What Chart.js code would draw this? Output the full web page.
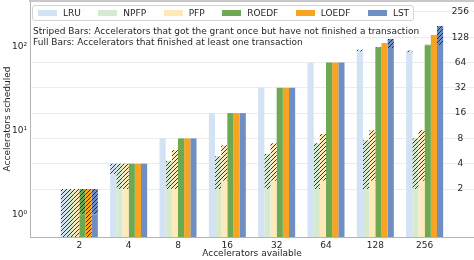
<!DOCTYPE html>
<html>
<head>
<meta charset="utf-8">
<script src="https://cdn.jsdelivr.net/npm/chart.js@4.4.1/dist/chart.umd.min.js"></script>
<style>
  body { margin: 0; background: #fff; }
  #wrap { position: relative; width: 474px; height: 260px; overflow: hidden; font-family: 'DejaVu Sans', sans-serif; color: #262626; }
  #legend { position: absolute; left: 32px; top: 5px; height: 16px; box-sizing: border-box; display: inline-flex; align-items: center;
            padding: 0 4px 0 5px; border: 1px solid #d4d4d4; border-radius: 3px; background: rgba(255,255,255,0.85); font-size: 9px; }
  .item { display: flex; align-items: center; margin-right: 17.5px; }
  .item:last-child { margin-right: 0; }
  .swatch { width: 19px; height: 6px; margin-right: 6px; }
  #note { position: absolute; left: 33px; top: 26px; font-size: 9px; line-height: 11px; white-space: nowrap; }
</style>
</head>
<body>
<div id="wrap">
  <canvas id="myChart" width="474" height="260"></canvas>
  <div id="legend"></div>
  <div id="note">Striped Bars: Accelerators that got the grant once but have not finished a transaction<br>Full Bars: Accelerators that finished at least one transaction</div>
</div>
<script>
// accelerators available (x categories)
const categories = ['2', '4', '8', '16', '32', '64', '128', '256'];
const seriesNames = ['LRU', 'NPFP', 'PFP', 'ROEDF', 'LOEDF', 'LST'];
const seriesColors = ['#d3e2f4', '#d6ead0', '#fde9b9', '#6ea850', '#f7a423', '#6e8ec4'];

// full bars: finished at least one transaction
const lruFull   = [0, 3, 8, 16, 32, 64, 86, 84];
const npfpFull  = [0, 2, 2, 2, 2, 2, 2, 2];
const pfpFull   = [0, 2, 2, 2.5, 2.5, 2.5, 2.5, 2.5];
const roedfFull = [1, 4, 8, 16, 32, 64, 96, 102];
const loedfFull = [0, 4, 8, 16, 32, 64, 109, 136];
const lstFull   = [1, 4, 8, 16, 32, 64, 95, 103];

// striped bars: got the grant but never finished (stacked on top)
const lruStriped   = [2, 1, 0, 0, 0, 0, 5, 5];
const npfpStriped  = [2, 2, 2.3, 2.9, 3.2, 5, 5.6, 6];
const pfpStriped   = [2, 2, 3.8, 4.1, 4.5, 6.5, 7.5, 7.5];
const roedfStriped = [1, 0, 0, 0, 0, 0, 2, 2];
const loedfStriped = [2, 0, 0, 0, 0, 0, 0, 0];
const lstStriped   = [1, 0, 0, 0, 0, 0, 27, 71];

const leftTicks = [1, 10, 100];
const rightTicks = [2, 4, 8, 16, 32, 64, 128, 256];
const yMin = 0.537;
const yMax = 345;

const fullData = [lruFull, npfpFull, pfpFull, roedfFull, loedfFull, lstFull];
const stripedData = [lruStriped, npfpStriped, pfpStriped, roedfStriped, loedfStriped, lstStriped];

Chart.defaults.font.family = "'DejaVu Sans', sans-serif";
Chart.defaults.color = '#262626';

function hatch(color) {
  const c = document.createElement('canvas');
  c.width = 4; c.height = 4;
  const g = c.getContext('2d');
  g.fillStyle = color;
  g.fillRect(0, 0, 4, 4);
  g.strokeStyle = 'rgba(20,25,35,0.85)';
  g.lineWidth = 1;
  g.beginPath();
  g.moveTo(0, 4); g.lineTo(4, 0);
  g.moveTo(-1, 1); g.lineTo(1, -1);
  g.moveTo(3, 5); g.lineTo(5, 3);
  g.stroke();
  return g.createPattern(c, 'repeat');
}

// empty slot at both ends so the axis runs from -1 to 8 like the original
const pad = (arr) => [null, ...arr, null];

const datasets = [];
seriesNames.forEach((name, i) => {
  datasets.push({ label: name, data: pad(fullData[i]), backgroundColor: seriesColors[i], stack: name });
  datasets.push({ label: name + ' striped', data: pad(stripedData[i]), backgroundColor: hatch(seriesColors[i]), stack: name });
});

const sup = { 1: '10\u2070', 10: '10\u00b9', 100: '10\u00b2' };

// keep the axes from reserving room for half-label overhang
const noPad = (s) => { s.paddingTop = 0; s.paddingBottom = 0; s.paddingLeft = 0; s.paddingRight = 0; };

const ctx = document.getElementById('myChart').getContext('2d');
new Chart(ctx, {
  type: 'bar',
  data: { labels: pad(categories).map((c) => c || ''), datasets },
  options: {
    responsive: false,
    animation: false,
    layout: { padding: { top: 1 } },
    plugins: { legend: { display: false }, tooltip: { enabled: false } },
    datasets: { bar: { categoryPercentage: 0.75, barPercentage: 1.0, borderWidth: 0 } },
    scales: {
      x: {
        offset: false,
        grid: { display: false, drawTicks: false },
        border: { color: '#b4b4b4', width: 1 },
        ticks: { font: { size: 9 }, padding: 3, autoSkip: false, maxRotation: 0 },
        title: { display: true, text: 'Accelerators available', font: { size: 9 }, padding: { top: 0, bottom: 1 } },
        afterFit: (s) => { s.height = 23; noPad(s); },
      },
      xTop: {
        type: 'linear',
        position: 'top',
        grid: { display: false, drawTicks: false },
        border: { color: '#c8c8c8', width: 2 },
        ticks: { display: false },
        afterFit: (s) => { s.height = 0; noPad(s); },
      },
      y: {
        type: 'logarithmic',
        position: 'left',
        stacked: true,
        min: yMin,
        max: yMax,
        grid: { drawOnChartArea: false, drawTicks: false },
        border: { color: '#b4b4b4', width: 1 },
        ticks: { font: { size: 9 }, padding: 3, callback: (v) => sup[v] || '' },
        afterBuildTicks: (s) => { s.ticks = leftTicks.map((v) => ({ value: v })); },
        title: { display: true, text: 'Accelerators scheduled', font: { size: 9 }, padding: { top: 2, bottom: 0 } },
        afterFit: (s) => { s.width = 30; noPad(s); },
      },
      yRight: {
        type: 'logarithmic',
        position: 'right',
        min: yMin,
        max: yMax,
        grid: { color: '#ececec', drawTicks: false },
        border: { display: false },
        ticks: { mirror: true, crossAlign: 'center', padding: -5, font: { size: 9 }, callback: (v) => String(v) },
        afterBuildTicks: (s) => { s.ticks = rightTicks.map((v) => ({ value: v })); },
        afterFit: (s) => { s.width = 0; noPad(s); },
      },
    },
  },
});

// legend box (full-colour patches only)
const legendEl = document.getElementById('legend');
seriesNames.forEach((name, i) => {
  const item = document.createElement('div');
  item.className = 'item';
  item.innerHTML = '<span class="swatch" style="background:' + seriesColors[i] + '"></span><span>' + name + '</span>';
  legendEl.appendChild(item);
});
</script>
</body>
</html>
